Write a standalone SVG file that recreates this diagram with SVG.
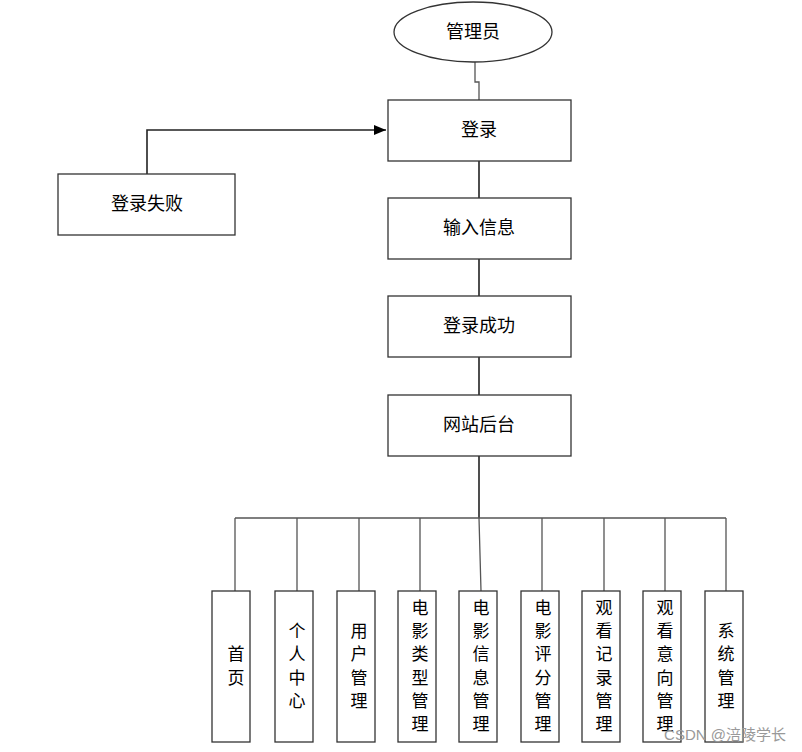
<svg xmlns="http://www.w3.org/2000/svg" width="802" height="752" viewBox="0 0 802 752">
<defs>
<style>
.b{fill:#fff;stroke:#333;stroke-width:1.3}
.t{font-family:"Noto Sans CJK SC","Liberation Sans",sans-serif;font-size:18px;fill:#000;text-anchor:middle}
.v{font-family:"Noto Sans CJK SC","Liberation Sans",sans-serif;font-size:17px;fill:#000;text-anchor:middle}
.c{fill:none;stroke:#222;stroke-width:1.6}
.c2{fill:none;stroke:#555;stroke-width:1.3}
</style>
<marker id="ar" markerWidth="12" markerHeight="10" refX="12" refY="5" orient="auto" markerUnits="userSpaceOnUse"><path d="M0,0 L12,5 L0,10 Z" fill="#000"/></marker>
</defs>
<rect width="802" height="752" fill="#fff"/>
<g id="connectors">
<path class="c2" d="M475,62 V82 H479 V100"/>
<path class="c" d="M147,174 V130 H386" marker-end="url(#ar)"/>
<path class="c" d="M479,161 V198 M479,259 V296 M479,357 V395"/>
<path class="c" d="M479,456 V518" stroke-width="2.2"/>
<path class="c2" d="M235,518 H726 M235,518 V591 M297,518 V591 M359,518 V591 M420,518 V591 M479,518 L481,591 M542,518 V591 M604,518 V591 M665,518 V591 M726,518 V591"/>
</g>
<g id="admin"><ellipse cx="473" cy="32" rx="79" ry="30" class="b"/><text class="t" x="473" y="38">管理员</text></g>
<g id="login"><rect class="b" x="388" y="100" width="183" height="61"/><text class="t" x="479" y="136">登录</text></g>
<g id="fail"><rect class="b" x="58" y="174" width="177" height="61"/><text class="t" x="147" y="210">登录失败</text></g>
<g id="input"><rect class="b" x="388" y="198" width="183" height="61"/><text class="t" x="479" y="234">输入信息</text></g>
<g id="success"><rect class="b" x="388" y="296" width="183" height="61"/><text class="t" x="479" y="332">登录成功</text></g>
<g id="backend"><rect class="b" x="388" y="395" width="183" height="61"/><text class="t" x="479" y="431">网站后台</text></g>
<g id="n1"><rect class="b" x="212" y="591" width="38" height="151"/><text class="v" x="236" y="660">首</text><text class="v" x="236" y="684">页</text></g>
<g id="n2"><rect class="b" x="275" y="591" width="38" height="151"/><text class="v" x="297" y="637">个</text><text class="v" x="297" y="660">人</text><text class="v" x="297" y="684">中</text><text class="v" x="297" y="707">心</text></g>
<g id="n3"><rect class="b" x="337" y="591" width="38" height="151"/><text class="v" x="359" y="637">用</text><text class="v" x="359" y="660">户</text><text class="v" x="359" y="684">管</text><text class="v" x="359" y="707">理</text></g>
<g id="n4"><rect class="b" x="398" y="591" width="38" height="151"/><text class="v" x="420" y="614">电</text><text class="v" x="420" y="637">影</text><text class="v" x="420" y="660">类</text><text class="v" x="420" y="684">型</text><text class="v" x="420" y="707">管</text><text class="v" x="420" y="730">理</text></g>
<g id="n5"><rect class="b" x="459" y="591" width="38" height="151"/><text class="v" x="481" y="614">电</text><text class="v" x="481" y="637">影</text><text class="v" x="481" y="660">信</text><text class="v" x="481" y="684">息</text><text class="v" x="481" y="707">管</text><text class="v" x="481" y="730">理</text></g>
<g id="n6"><rect class="b" x="521" y="591" width="38" height="151"/><text class="v" x="543" y="614">电</text><text class="v" x="543" y="637">影</text><text class="v" x="543" y="660">评</text><text class="v" x="543" y="684">分</text><text class="v" x="543" y="707">管</text><text class="v" x="543" y="730">理</text></g>
<g id="n7"><rect class="b" x="582" y="591" width="38" height="151"/><text class="v" x="604" y="614">观</text><text class="v" x="604" y="637">看</text><text class="v" x="604" y="660">记</text><text class="v" x="604" y="684">录</text><text class="v" x="604" y="707">管</text><text class="v" x="604" y="730">理</text></g>
<g id="n8"><rect class="b" x="643" y="591" width="38" height="151"/><text class="v" x="665" y="614">观</text><text class="v" x="665" y="637">看</text><text class="v" x="665" y="660">意</text><text class="v" x="665" y="684">向</text><text class="v" x="665" y="707">管</text><text class="v" x="665" y="730">理</text></g>
<g id="n9"><rect class="b" x="705" y="591" width="38" height="151"/><text class="v" x="726" y="637">系</text><text class="v" x="726" y="660">统</text><text class="v" x="726" y="684">管</text><text class="v" x="726" y="707">理</text></g>
<text x="786" y="740" font-family="'Liberation Sans','Noto Sans CJK SC',sans-serif" font-size="15" fill="#999" text-anchor="end">CSDN @涪陵学长</text>
</svg>
